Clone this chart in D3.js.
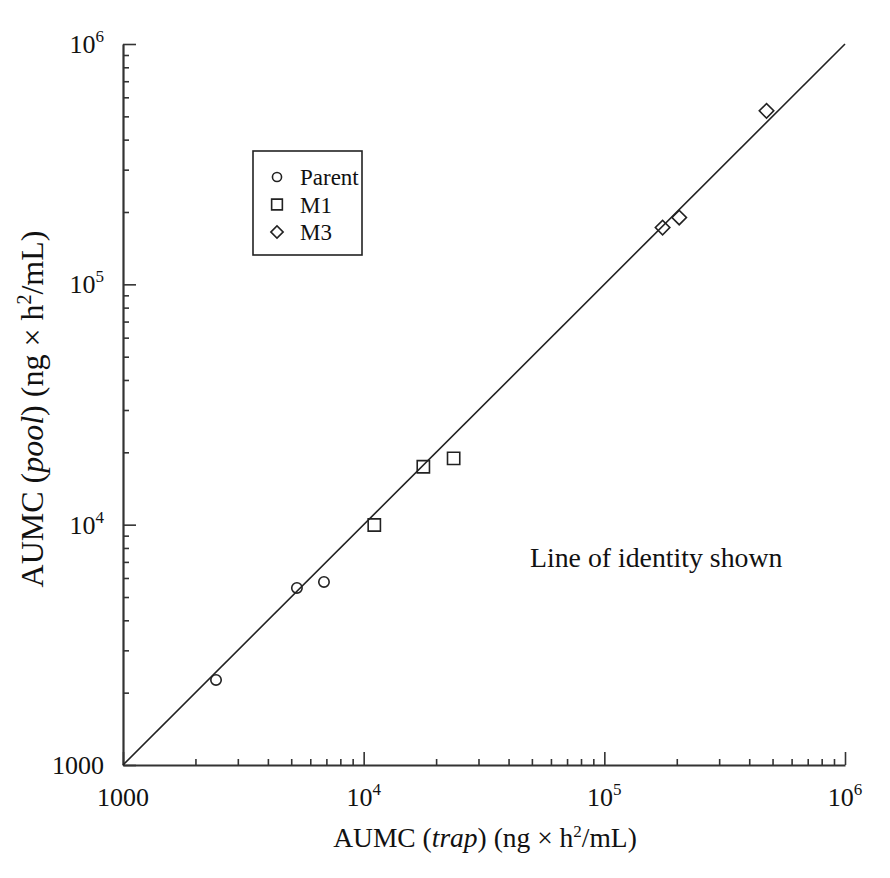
<!DOCTYPE html>
<html>
<head>
<meta charset="utf-8">
<script src="https://cdn.jsdelivr.net/npm/d3@7"></script>
<style>
  html, body { margin: 0; padding: 0; background: #fff; }
  svg { display: block; }
  text { font-family: "Liberation Serif", "Times New Roman", serif; fill: #111; }
</style>
</head>
<body>
<svg id="chart" width="890" height="878"></svg>
<script>
// ---- data ----
const parentX = [2435, 5280, 6840];
const parentY = [2260, 5455, 5780];
const m1X = [11070, 17700, 23650];
const m1Y = [9970, 17420, 18880];
const m3X = [174600, 204700, 472000];
const m3Y = [172200, 189700, 527000];
const seriesNames = ["Parent", "M1", "M3"];
const majorTicks = [1000, 1e4, 1e5, 1e6];
const majorExp = [null, 4, 5, 6];
const identityLine = [1000, 1e6];

const svg = d3.select("#chart");
const x = d3.scaleLog().domain([1000, 1e6]).range([123, 845]);
const y = d3.scaleLog().domain([1000, 1e6]).range([765, 44]);

// minor ticks
const minor = [];
for (let e = 3; e < 6; e++) for (let k = 2; k <= 9; k++) minor.push(k * Math.pow(10, e));

const axisColor = "#333";

// X axis
const gx = svg.append("g").attr("transform", "translate(0,765)");
gx.call(d3.axisBottom(x).tickValues(minor).tickSize(-6).tickSizeOuter(0).tickFormat(""));
gx.append("g").call(d3.axisBottom(x).tickValues(majorTicks).tickSize(-13).tickSizeOuter(0).tickFormat(""))
  .select(".domain").remove();
gx.selectAll(".domain").attr("stroke", axisColor).attr("stroke-width", 2.2);
gx.selectAll(".tick line").attr("stroke", axisColor).attr("stroke-width", 1.6);

// Y axis
const gy = svg.append("g").attr("transform", "translate(123,0)");
gy.call(d3.axisLeft(y).tickValues(minor).tickSize(-6).tickSizeOuter(0).tickFormat(""));
gy.append("g").call(d3.axisLeft(y).tickValues(majorTicks).tickSize(-13).tickSizeOuter(0).tickFormat(""))
  .select(".domain").remove();
gy.selectAll(".domain").attr("stroke", axisColor).attr("stroke-width", 2.2);
gy.selectAll(".tick line").attr("stroke", axisColor).attr("stroke-width", 1.6);

// tick labels
function tickLabel(sel, v, i) {
  if (majorExp[i] === null) {
    sel.text("1000");
  } else {
    sel.append("tspan").text("10");
    sel.append("tspan").attr("dy", -11).attr("font-size", 17).text(majorExp[i]);
  }
}
majorTicks.forEach((v, i) => {
  const t = svg.append("text").attr("x", x(v)).attr("y", 806)
    .attr("text-anchor", "middle").attr("font-size", 26);
  tickLabel(t, v, i);
  const t2 = svg.append("text").attr("x", 104).attr("y", y(v) + 9)
    .attr("text-anchor", "end").attr("font-size", 26);
  tickLabel(t2, v, i);
});

// axis titles
function title(sel, italicWord, supSize, supDy) {
  sel.append("tspan").text("AUMC (");
  sel.append("tspan").attr("font-style", "italic").text(italicWord);
  sel.append("tspan").text(") (ng \u00d7 h");
  sel.append("tspan").attr("dy", -supDy).attr("font-size", supSize).text("2");
  sel.append("tspan").attr("dy", supDy).text("/mL)");
}
title(svg.append("text").attr("x", 485).attr("y", 847).attr("text-anchor", "middle").attr("font-size", 27.5), "trap", 17, 10);
title(svg.append("text").attr("transform", "translate(43,409) rotate(-90)").attr("text-anchor", "middle").attr("font-size", 32), "pool", 20, 12);

// identity line
svg.append("line")
  .attr("x1", x(identityLine[0])).attr("y1", y(identityLine[0]))
  .attr("x2", x(identityLine[1])).attr("y2", y(identityLine[1]))
  .attr("stroke", "#222").attr("stroke-width", 1.6);

svg.append("text").attr("x", 530).attr("y", 567).attr("font-size", 27.8).text("Line of identity shown");

// markers
const symCircle = d3.symbol().type(d3.symbolCircle).size(85);
const symSquare = d3.symbol().type(d3.symbolSquare).size(150);
const symDiamond = d3.symbol().type(d3.symbolSquare).size(105);
const markerStyle = s => s.attr("fill", "none").attr("stroke", "#222").attr("stroke-width", 1.6);

function drawSeries(xs, ys, gen, rot) {
  xs.forEach((xv, i) => {
    svg.append("path").attr("d", gen())
      .attr("transform", `translate(${x(xv)},${y(ys[i])}) rotate(${rot})`)
      .call(markerStyle);
  });
}
drawSeries(parentX, parentY, symCircle, 0);
drawSeries(m1X, m1Y, symSquare, 0);
drawSeries(m3X, m3Y, symDiamond, 45);

// legend
svg.append("rect").attr("x", 253).attr("y", 151).attr("width", 109).attr("height", 104)
  .attr("fill", "none").attr("stroke", "#222").attr("stroke-width", 1.6);
const legendSyms = [
  [d3.symbol().type(d3.symbolCircle).size(65), 0],
  [d3.symbol().type(d3.symbolSquare).size(115), 0],
  [d3.symbol().type(d3.symbolSquare).size(75), 45]
];
seriesNames.forEach((name, i) => {
  const by = 185 + i * 27.5;
  svg.append("path").attr("d", legendSyms[i][0]())
    .attr("transform", `translate(277,${by - 8}) rotate(${legendSyms[i][1]})`)
    .call(markerStyle);
  svg.append("text").attr("x", 300).attr("y", by).attr("font-size", 23).text(name);
});
</script>
</body>
</html>
